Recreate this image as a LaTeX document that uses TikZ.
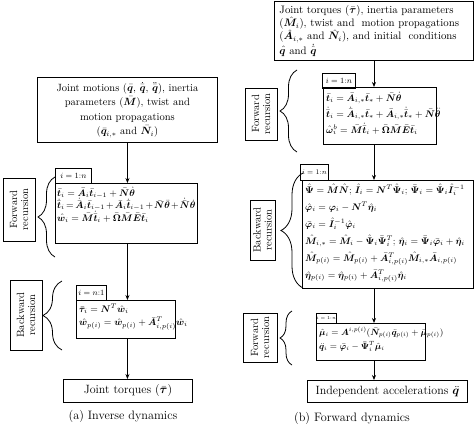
\RequirePackage{fix-cm}
\documentclass[tikz,border=0pt]{standalone}
\usepackage{amsmath,bm}
\usetikzlibrary{arrows.meta,decorations.pathreplacing}
\newcommand{\Mb}[1]{\bar{\bm{#1}}}
\newcommand{\Mh}[1]{\hat{\bm{#1}}}
\tikzset{
  box/.style={draw, line width=0.9pt, inner sep=2pt, anchor=north west},
  idx/.style={draw, line width=0.9pt, inner sep=0pt, anchor=north west, font=\fontsize{8}{9}\selectfont},
  eq/.style={anchor=north west, align=left, inner sep=0pt},
  arr/.style={-{Stealth[length=5pt,width=4pt]}, line width=0.8pt},
  brc/.style={decorate, line width=0.8pt},
  lab/.style={draw, line width=0.9pt, rotate=90, align=center, inner sep=0pt, font=\fontsize{10.5}{11}\selectfont},
  captxt/.style={font=\fontsize{12.2}{14}\selectfont}
}
\begin{document}
\begin{tikzpicture}[x=1pt,y=-1pt]
\useasboundingbox (0,0) rectangle (474,426);
% ---------------- (a) Inverse dynamics ----------------
\node[box, minimum width=180, minimum height=65, text width=174, align=center,
  font=\fontsize{10.5}{14.5}\selectfont] (topL) at (37,77)
  {Joint motions ($\Mb q$, $\dot{\Mb q}$, $\ddot{\Mb q}$), inertia\\ parameters ($\Mb M$), twist and\\ motion propagations\\ ($\Mb q_{i,*}$ and $\Mb N_i$)};
\node[idx, minimum width=36, minimum height=15] (iL1) at (55,168) {$i=1{:}n$};
\node[box, minimum width=142, minimum height=60] (mainL1) at (55,183) {};
\node[eq, font=\fontsize{9.5}{12.5}\selectfont] (eqL1) at (57,187)
  {$\Mb t_i=\Mb A_i\Mb t_{i-1}+\Mb N\dot{\bm\theta}$\\
   $\medmuskip=2mu\thickmuskip=3mu\dot{\Mb t}_i=\dot{\Mb A}_i\Mb t_{i-1}+\Mb A_i\dot{\Mb t}_{i-1}+\Mb N\ddot{\bm\theta}+\dot{\Mb N}\dot{\bm\theta}$\\
   $\Mh w_i=\Mb M\dot{\Mb t}_i+\Mb\Omega\Mb M\Mb E\Mb t_i$};
\coordinate (bL1a) at (55,257);
\coordinate (bL1b) at (55,177);
\draw[brc, decoration={brace, amplitude=17pt}] (bL1a) -- (bL1b);
\node[lab, minimum width=63, minimum height=32] (labL1) at (19,209.5) {Forward\\recursion};

\node[idx, minimum width=30, minimum height=15] (iL2) at (76,285) {$i=n{:}1$};
\node[box, minimum width=99, minimum height=38] (mainL2) at (76,300) {};
\node[eq, font=\fontsize{9.5}{13}\selectfont] (eqL2) at (79,304)
  {$\Mb\tau_i=\bm N^{T}\Mh w_i$\\
   $\Mh w_{p(i)}=\Mh w_{p(i)}+\Mb A^{T}_{i,p(i)}\Mh w_i$};
\coordinate (bL2a) at (62,350);
\coordinate (bL2b) at (62,281);
\draw[brc, decoration={brace, amplitude=19pt}] (bL2a) -- (bL2b);
\node[lab, minimum width=70, minimum height=32] (labL2) at (26,315) {Backward\\recursion};

\node[box, minimum width=129, minimum height=23, font=\fontsize{12}{13}\selectfont] (endL) at (63,379) {Joint torques ($\Mb\tau$)};
\node[captxt] (capL) at (123,416) {(a) Inverse dynamics};

\draw[arr] (topL.south) -- (topL.south |- mainL1.north);
\draw[arr] (mainL1.south -| topL.south) -- (topL.south |- mainL2.north);
\draw[arr] (mainL2.south -| topL.south) -- (topL.south |- endL.north);

% ---------------- (b) Forward dynamics ----------------
\node[box, minimum width=199, minimum height=59, text width=189, inner xsep=5pt, inner ysep=1pt, align=left,
  font=\fontsize{10.8}{13}\selectfont] (topR) at (274,1)
  {Joint torques ($\Mb\tau$), inertia parameters\\ ($\Mh M_i$), twist and\ \ motion propagations\\ ($\Mh A_{i,*}$ and $\Mh N_i$), and initial\ \ conditions\\ $\Mh q$ and $\dot{\Mh q}$};
\coordinate (axR) at (374,0);
\node[idx, minimum width=33, minimum height=15] (iR1) at (322,73) {$i=1{:}n$};
\node[box, minimum width=113, minimum height=57] (mainR1) at (323,87) {};
\node[eq, font=\fontsize{9.5}{16}\selectfont] (eqR1) at (326,92)
  {$\Mb t_i=\Mb A_{i,*}\Mb t_{*}+\Mb N\dot{\bm\theta}$\\
   $\dot{\Mb t}_i=\dot{\Mb A}_{i,*}\Mb t_{*}+\Mb A_{i,*}\dot{\Mb t}_{*}+\Mb N\ddot{\bm\theta}$\\
   $\Mh\omega^{b}_i=\Mb M\dot{\Mb t}_i+\Mb\Omega\Mb M\Mb E\Mb t_i$};
\coordinate (bR1a) at (297,152);
\coordinate (bR1b) at (297,70);
\draw[brc, decoration={brace, amplitude=17pt}] (bR1a) -- (bR1b);
\node[lab, minimum width=52, minimum height=32] (labR1) at (261,114) {Forward\\recursion};

\node[idx, minimum width=28, minimum height=16, font=\fontsize{7}{8}\selectfont] (iR2) at (300,164) {$i=1{:}n$};
\node[box, minimum width=171, minimum height=108] (mainR2) at (302,180) {};
\node[eq, font=\fontsize{9.5}{17}\selectfont] (eqR2) at (305,184)
  {$\Mh\Psi=\Mh M\Mh N$;\ $\Mh I_i=\bm N^{T}\Mh\Psi_i$;\ $\Mb\Psi_i=\Mh\Psi_i\Mh I_i^{-1}$\\
   $\Mh\varphi_i=\bm\varphi_i-\bm N^{T}\Mh\eta_i$\\
   $\Mb\varphi_i=\Mh I_i^{-1}\Mh\varphi_i$\\
   $\Mh M_{i,*}=\Mh M_i-\Mh\Psi_i\Mb\Psi_i^{T}$;\ $\Mh\eta_i=\Mb\Psi_i\Mb\varphi_i+\Mh\eta_i$\\
   $\Mh M_{p(i)}=\Mh M_{p(i)}+\Mb A^{T}_{i,p(i)}\Mh M_{i,*}\Mb A_{i,p(i)}$\\
   $\Mh\eta_{p(i)}=\Mh\eta_{p(i)}+\Mb A^{T}_{i,p(i)}\Mh\eta_i$};
\coordinate (bR2a) at (303,288);
\coordinate (bR2b) at (303,173);
\draw[brc, decoration={brace, amplitude=22pt}] (bR2a) -- (bR2b);
\node[lab, minimum width=60, minimum height=25] (labR2) at (262.5,230) {Backward\\recursion};

\node[idx, minimum width=15, minimum height=10, font=\fontsize{4.5}{5}\selectfont] (iR3) at (316,313) {$i=1{:}n$};
\node[box, minimum width=109, minimum height=37] (mainR3) at (316,323) {};
\node[eq, font=\fontsize{9}{14}\selectfont] (eqR3) at (319,327)
  {$\Mh\mu_i=\bm A^{i,p(i)}(\Mb N_{p(i)}\ddot{\bm q}_{p(i)}+\Mb\mu_{p(i)})$\\
   $\ddot{\bm q}_i=\Mb\varphi_i-\Mb\Psi_i^{T}\Mh\mu_i$};
\coordinate (bR3a) at (292,365);
\coordinate (bR3b) at (292,311);
\draw[brc, decoration={brace, amplitude=12pt}] (bR3a) -- (bR3b);
\node[lab, minimum width=49, minimum height=34] (labR3) at (260,337.5) {Forward\\recursion};

\node[box, minimum width=160, minimum height=22, font=\fontsize{12}{13}\selectfont] (endR) at (307,380) {Independent accelerations $\ddot{\bm q}$};
\node[captxt] (capR) at (352,418) {(b) Forward dynamics};

\draw[arr] (topR.south -| axR) -- (axR |- mainR1.north);
\draw[arr] (mainR1.south -| axR) -- (axR |- mainR2.north);
\draw[arr] (mainR2.south -| axR) -- (axR |- mainR3.north);
\draw[arr] (mainR3.south -| axR) -- (axR |- endR.north);
\end{tikzpicture}
\end{document}
